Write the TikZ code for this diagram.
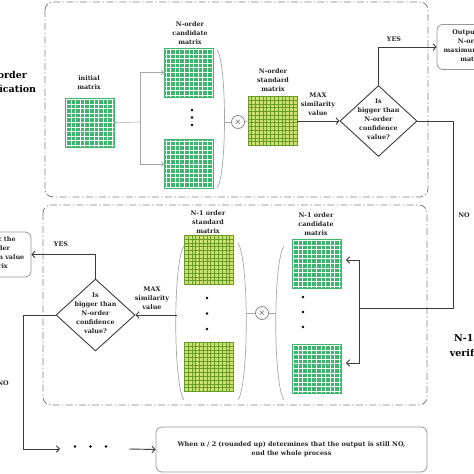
\documentclass[tikz,border=0pt]{standalone}
\usepackage{fontspec}
\setmainfont{DejaVu Serif}
\usetikzlibrary{shapes.geometric,arrows.meta,calc}
\definecolor{mgreen}{RGB}{61,181,110}
\definecolor{yfill}{RGB}{205,225,115}
\definecolor{yline}{RGB}{105,155,40}
\definecolor{lineclr}{RGB}{60,60,60}
\definecolor{boxclr}{RGB}{125,125,125}
\begin{document}
\begin{tikzpicture}[x=1pt,y=-1pt,
  lbl/.style={font=\fontsize{6.4}{9}\selectfont\bfseries, align=center, inner sep=0, text=black!85},
  big/.style={font=\fontsize{9.5}{14.5}\selectfont\bfseries, align=center, inner sep=0},
  ln/.style={draw=lineclr, line width=0.9pt},
  arr/.style={ln, -{Straight Barb[length=3pt,width=6.5pt]}},
  thinln/.style={draw=gray!70, line width=0.6pt},
  thinarr/.style={thinln, -{Straight Barb[length=2.5pt,width=5pt]}},
  dbox/.style={draw=boxclr, line width=0.8pt, rounded corners=8pt, dash pattern=on 7pt off 2.5pt on 1.2pt off 2.5pt},
  rbox/.style={draw=boxclr!80, line width=0.8pt, rounded corners=6pt, minimum width=70pt, minimum height=45pt, inner sep=0},
  xcirc/.style={circle, draw=gray, line width=0.7pt, minimum size=13pt, inner sep=0, font=\small},
  dia/.style={diamond, draw=lineclr, line width=0.9pt, inner sep=0},
  dot/.style={circle, fill=black, minimum size=2.6pt, inner sep=0},
  paren/.style={draw=gray!70, line width=0.7pt},
  gmat/.style={minimum width=49pt, minimum height=49pt, inner sep=0, fill=mgreen, draw=mgreen, line width=0.9pt,
    path picture={
      \foreach \i in {0,...,10}{
        \draw[white, line width=1.0pt] ([xshift=1.5pt+\i*4.6pt]path picture bounding box.north west) -- ([xshift=1.5pt+\i*4.6pt]path picture bounding box.south west);
        \draw[white, line width=1.0pt] ([yshift=-1.5pt-\i*4.6pt]path picture bounding box.north west) -- ([yshift=-1.5pt-\i*4.6pt]path picture bounding box.north east);
      }}},
  ymat/.style={minimum width=49pt, minimum height=49pt, inner sep=0, fill=yfill, draw=yline, line width=0.9pt,
    path picture={
      \foreach \i in {1,...,12}{
        \draw[yline, line width=0.8pt] ([xshift=\i*3.77pt]path picture bounding box.north west) -- ([xshift=\i*3.77pt]path picture bounding box.south west);
        \draw[yline, line width=0.8pt] ([yshift=-\i*3.77pt]path picture bounding box.north west) -- ([yshift=-\i*3.77pt]path picture bounding box.north east);
      }}}
]
\useasboundingbox (0,0) rectangle (474,474);

% dashed section frames
\draw[dbox] (45,2) rectangle (428,197);
\draw[dbox] (43,205) rectangle (427,405);

% section titles
\node[big] (t1) at (6,82) {N-order\\verification};
\node[big] (t2) at (480,345.5) {N-1 order\\verification};

% ---------- top section ----------
\node[gmat] (im) at (89.5,122.5) {};
\node[lbl] (lim) at (89,83) {initial\\matrix};
\node[gmat] (c1) at (189,72.5) {};
\node[gmat] (c2) at (189,164) {};
\node[lbl] (lc) at (190,33) {N-order\\candidate\\matrix};
\node[dot] (td1) at (192,110) {};
\node[dot] (td2) at (192,117.5) {};
\node[dot] (td3) at (192,125) {};
\draw[paren] (217,50) .. controls (227,62) and (227,176) .. (217,188);
\coordinate (p1) at (224.5,122);
\node[xcirc] (x1) at (238,122) {$\times$};
\node[ymat] (sm) at (272.5,121) {};
\node[lbl] (lsm) at (273,80) {N-order\\standard\\matrix};
\node[lbl] (lmax1) at (318,104) {MAX\\similarity\\value};
\node[dia, minimum width=77pt, minimum height=71pt] (d1) at (378.5,121) {};
\node[lbl] (d1t) at (378.5,119.5) {Is\\bigger than\\N-order\\confidence\\value?};
\node[rbox] (out1) at (472,47) {};
\node[lbl] (out1t) at (472,46) {Output the\\N-order\\maximum value\\matrix};
\node[lbl] (lyes1) at (394,39) {YES};
\node[lbl] (lno1) at (464,215) {NO};

\coordinate (j1) at (140,122);
\draw[thinln] (im.east) -- (j1);
\draw[thinarr] (j1) |- (c1.west);
\draw[thinarr] (j1) |- (c2.west);
\draw[thinln] (p1) -- (x1.west);
\draw[thinln] (x1.east) -- (sm.west);
\draw[arr] (sm.east) -- (d1.west);
\draw[arr] (d1.north) |- (out1.west);

% NO branch into bottom section
\coordinate (k1) at (453,121);
\coordinate (k2) at (453,308);
\coordinate (k3) at (359,308);
\draw[ln] (d1.east) -- (k1) -- (k2) -- (k3);
\coordinate (a1) at (346,260);
\coordinate (a2) at (346,363);
\draw[arr] (k3) |- (a1);
\draw[arr] (k3) |- (a2);

% ---------- bottom section ----------
\node[gmat] (bc1) at (316.5,263.5) {};
\node[gmat] (bc2) at (316.5,368.5) {};
\node[lbl] (lbc) at (316,224) {N-1 order\\candidate\\matrix};
\node[dot] (cd1) at (303,297) {};
\node[dot] (cd2) at (303,312) {};
\node[dot] (cd3) at (303,327) {};
\draw[paren] (284,246) .. controls (273,262) and (273,384) .. (284,400);
\coordinate (p2) at (276.3,313);
\node[xcirc] (x2) at (262,313) {$\times$};
\draw[paren] (238,243) .. controls (249,259) and (249,384) .. (238,400);
\coordinate (p3) at (246.2,313);
\node[ymat] (bs1) at (209,260) {};
\node[ymat] (bs2) at (209,367) {};
\node[lbl] (lbs) at (208,222) {N-1 order\\standard\\matrix};
\node[dot] (sd1) at (207,298) {};
\node[dot] (sd2) at (207,313.5) {};
\node[dot] (sd3) at (207,329) {};
\draw[paren] (184,246) .. controls (173,262) and (173,384) .. (184,400);
\coordinate (p4) at (176.5,315);
\node[lbl] (lmax2) at (152,298) {MAX\\similarity\\value};
\node[dia, minimum width=79pt, minimum height=72pt] (d2) at (95.5,315) {};
\node[lbl] (d2t) at (95.5,313.5) {Is\\bigger than\\N-order\\confidence\\value?};
\node[rbox] (out2) at (-4,254.5) {};
\node[lbl] (out2t) at (-4,253) {Output the\\N-order\\maximum value\\matrix};
\node[lbl] (lyes2) at (61,244) {YES};
\node[lbl] (lno2) at (3,383) {NO};

\draw[thinln] (x2.east) -- (p2);
\draw[thinln] (p3) -- (x2.west);
\draw[arr] (p4) -- (d2.east);
\draw[arr] (d2.north) |- (out2.east);

% final step
\node[dot] (bd1) at (75,446.5) {};
\node[dot] (bd2) at (90.5,446.5) {};
\node[dot] (bd3) at (106,446.5) {};
\node[rbox, minimum width=271pt, minimum height=45pt] (fin) at (291.5,449.5) {};
\node[lbl] (fint) at (291.5,449.5) {When n / 2 (rounded up) determines that the output is still NO,\\end the whole process};
\coordinate (k4) at (23,315);
\coordinate (q0) at (60,449);
\coordinate (q1) at (129,449);
\draw[arr] (d2.west) -- (k4) |- (q0);
\draw[arr] (q1) -- (fin.west);
\end{tikzpicture}
\end{document}
